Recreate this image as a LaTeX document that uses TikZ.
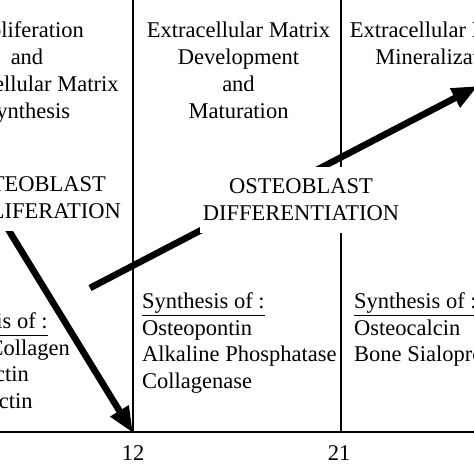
\documentclass[tikz,border=0pt]{standalone}
\usepackage{fontspec}
\setmainfont{Liberation Serif}
\usetikzlibrary{arrows.meta}
\begin{document}
\begin{tikzpicture}[x=1pt,y=-1pt,
  toptext/.style={anchor=north, align=center, inner sep=0pt, font=\fontsize{22.5}{27}\selectfont},
  listtext/.style={anchor=north west, align=left, inner sep=0pt, font=\fontsize{22.5}{26.5}\selectfont},
  phase/.style={align=center, inner xsep=3pt, inner ysep=0pt, fill=white, minimum height=66pt, font=\fontsize{22.5}{27}\selectfont},
  divider/.style={line width=2.4pt},
  bigarrow/.style={line width=6.6pt, -{Triangle[length=26pt,width=20pt]}},
  ticklabel/.style={anchor=base, inner sep=0pt, font=\fontsize{22.5}{27}\selectfont}]
\useasboundingbox (0,0) rectangle (474,474);
\clip (0,0) rectangle (474,474);
% dividers and time axis
\coordinate (axL) at (-5,432);
\coordinate (axR) at (480,432);
\coordinate (l1top) at (133,-5);
\coordinate (l1bot) at (133,432);
\coordinate (l2top) at (341,-5);
\coordinate (l2bot) at (341,432);
\draw[divider] (axL) -- (axR);
\draw[divider] (l1top) -- (l1bot);
\draw[divider] (l2top) -- (l2bot);
% arrows
\coordinate (pstart) at (-16,190);
\coordinate (pend) at (133,433);
\coordinate (dstart) at (90,288);
\coordinate (dend) at (478,86);
\draw[bigarrow] (pstart) -- (pend);
\draw[bigarrow] (dstart) -- (dend);
% phase labels
\node[phase] (prolif) at (34,198) {OSTEOBLAST\\PROLIFERATION};
\node[phase] (diff) at (301,200) {OSTEOBLAST\\DIFFERENTIATION};
% column headings
\node[toptext] (ph1) at (27,21.5) {Proliferation\\and\\Extracellular Matrix\\Synthesis};
\node[toptext] (ph2) at (238.5,21.5) {Extracellular Matrix\\Development\\and\\Maturation};
\node[toptext] (ph3) at (441.5,21.5) {Extracellular Matrix\\Mineralization};
% synthesis lists
\node[listtext] (s1) at (-75,312.6) {\underline{Synthesis of :}\\Type I Collagen\\Fibronectin\\Osteonectin};
\node[listtext] (s2) at (142,292.6) {\underline{Synthesis of :}\\Osteopontin\\Alkaline Phosphatase\\Collagenase};
\node[listtext] (s3) at (354,292.6) {\underline{Synthesis of :}\\Osteocalcin\\Bone Sialoprotein};
% axis labels
\node[ticklabel] (t12) at (133,460) {12};
\node[ticklabel] (t21) at (339,460) {21};
\end{tikzpicture}
\end{document}
